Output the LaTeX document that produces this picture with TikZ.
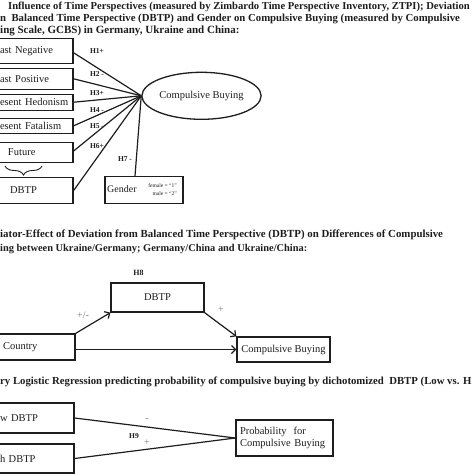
\documentclass[tikz,border=0pt]{standalone}
\usepackage{fontspec}
\setmainfont{Liberation Serif}
\usetikzlibrary{shapes.geometric,arrows.meta,decorations.pathreplacing}
\definecolor{ink}{HTML}{1E1E1E}
\definecolor{soft}{HTML}{7A7A7A}
\tikzset{
  title/.style={font=\fontsize{#1}{13}\selectfont\bfseries, anchor=base west, inner sep=0pt, text=ink},
  lbox/.style={draw=ink, line width=1.3pt, inner xsep=2pt, inner ysep=0pt, text width=#1, align=left, font=\fontsize{10.5}{12.5}\selectfont, text=ink},
  cbox/.style={draw=ink, line width=1.3pt, inner sep=0pt, align=center, font=\fontsize{10.5}{12.5}\selectfont, text=ink},
  conn/.style={draw=ink, line width=1.2pt},
  arr/.style={conn, -{Straight Barb[length=4pt,width=8pt,line width=1.2pt]}},
  hlab/.style={font=\fontsize{7.5}{9}\selectfont\bfseries, inner sep=0pt, text=ink},
  slab/.style={font=\fontsize{10}{12}\selectfont, inner sep=0pt, text=soft},
}
\begin{document}
\begin{tikzpicture}[x=1pt,y=-1pt]
\path[use as bounding box] (0,0) rectangle (474,474);
\fill[white] (0,0) rectangle (474,474);
\clip (0,0) rectangle (474,474);

% ---- titles
\node[title=10.6] (t1a) at (8,9) {Influence of Time Perspectives (measured by Zimbardo Time Perspective Inventory, ZTPI); Deviation};
\node[title=10.75] (t1b) at (0,21) {n\ \ Balanced Time Perspective (DBTP) and Gender on Compulsive Buying (measured by Compulsive};
\node[title=11] (t1c) at (0,33) {ing Scale, GCBS) in Germany, Ukraine and China:};
\node[title=10.85] (t2a) at (0,237.5) {iator-Effect of Deviation from Balanced Time Perspective (DBTP) on Differences of Compulsive};
\node[title=10.4] (t2b) at (0,251) {ing between Ukraine/Germany; Germany/China and Ukraine/China:};
\node[title=10.75] (t3) at (0,384.5) {ry Logistic Regression predicting probability of compulsive buying by dichotomized\ \ DBTP (Low vs. H};

% ---- panel 1
\node[lbox=71pt, minimum height=25pt] (pn) at (35.5,50.8) {ast Negative};
\node[lbox=71pt, minimum height=21pt] (pp) at (35.5,78.8) {ast Positive};
\node[lbox=71pt, minimum height=16pt] (ph) at (35.5,102.2) {esent Hedonism};
\node[lbox=71pt, minimum height=15pt] (pf) at (35.5,125.8) {esent Fatalism};
\node[lbox=71pt, minimum height=20pt] (fu) at (35.5,152.5) {\hspace*{8pt}Future};
\node[lbox=71pt, minimum height=25.5pt] (db) at (35.5,190.5) {\hspace*{10pt}DBTP};
\node[cbox, ellipse, minimum width=103pt, minimum height=47pt] (cb) at (201.5,95.8) {Compulsive Buying};
\node[cbox, minimum width=78pt, minimum height=26.5pt] (g) at (144,190) {};
\node[anchor=west, inner sep=0pt, font=\fontsize{10}{12}\selectfont, text=ink] (gt) at (107,189) {Gender};
\node[anchor=east, align=right, inner sep=0pt, font=\fontsize{5.5}{8.5}\selectfont, text=ink] (gv) at (177,189.5) {female = ``1''\\ male = ``2''};

\draw[conn] ([yshift=-2pt]pn.east) -- (cb.west);
\draw[conn] (pp.east) -- (cb.west);
\draw[conn] (ph.east) -- (cb.west);
\draw[conn] (pf.east) -- (cb.west);
\draw[conn] ([yshift=1.5pt]fu.east) -- (cb.west);
\draw[conn] (db.east) -- (cb.west);
\draw[conn] ([xshift=-9pt]g.north) -- (cb.west);

\node[hlab] (l1) at (97,51) {H1+};
\node[hlab] (l2) at (97,74) {H2 -};
\node[hlab] (l3) at (97,93) {H3+};
\node[hlab] (l4) at (97,110) {H4 -};
\node[hlab] (l5) at (97,126) {H5 -};
\node[hlab] (l6) at (97,146) {H6+};
\node[hlab] (l7) at (125,159) {H7 -};

\coordinate (br1) at (42,166);
\coordinate (br2) at (5,166);
\draw[ink, line width=0.9pt, decorate, decoration={brace, amplitude=9pt}] (br1) -- (br2);

% ---- panel 2
\node[hlab, font=\fontsize{8}{9}\selectfont\bfseries] (h8) at (138.5,273) {H8};
\node[cbox, minimum width=93pt, minimum height=29pt] (d2) at (157.5,297.5) {DBTP};
\node[lbox=73pt, minimum height=26pt] (co) at (36.5,347) {\hspace*{3pt}Country};
\node[cbox, minimum width=93pt, minimum height=25pt] (c2) at (283.5,349.5) {Compulsive Buying};
\draw[arr] (co.north east) -- (d2.south west);
\draw[arr] (d2.south east) -- (c2.north west);
\draw[arr] (co.east |- c2.west) -- (c2.west);
\node[slab] (pm) at (83,315) {+/-};
\node[slab] (pl) at (221,310) {+};

% ---- panel 3
\node[lbox=72pt, minimum height=30pt] (lo) at (36,418) {w DBTP};
\node[lbox=72pt, minimum height=29pt] (hi) at (36,458.5) {h DBTP};
\node[lbox=89pt, inner xsep=4pt, minimum height=36pt] (pr) at (284.5,438) {Probability\ \ for\\Compulsive Buying};
\draw[conn] (lo.east) -- (pr.west);
\draw[conn] (hi.east) -- (pr.west);
\node[slab] (mi) at (147,420) {-};
\node[slab] (pl3) at (147,443) {+};
\node[hlab] (h9) at (134,436) {H9};
\end{tikzpicture}
\end{document}
